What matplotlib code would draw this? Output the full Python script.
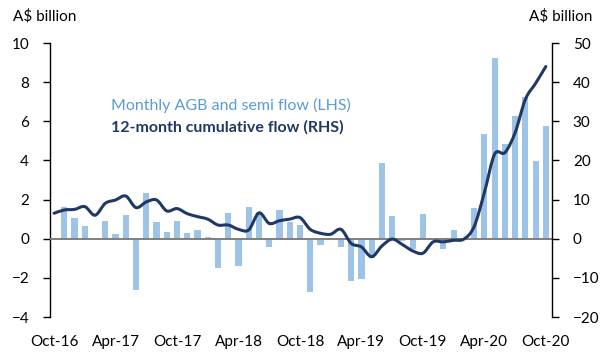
import numpy as np
import matplotlib
matplotlib.use('Agg')
import matplotlib.pyplot as plt
from matplotlib.path import Path
from matplotlib.patches import PathPatch

plt.rcParams['font.family'] = ['Lato', 'DejaVu Sans']

# Monthly flows, Oct-16 .. Oct-20 (A$ billion, LHS)
monthly_flow = [0.06, 1.64, 1.08, 0.64, 0.06, 0.89, 0.24, 1.20, -2.63, 2.34,
                0.84, 0.35, 0.89, 0.27, 0.45, 0.11, -1.49, 1.32, -1.39, 1.61,
                1.37, -0.40, 1.45, 0.86, 0.69, -2.73, -0.30, 0.03, -0.40, -2.18,
                -2.08, -1.01, 3.85, 1.16, -0.13, -0.54, 1.25, 0.06, -0.54, 0.45,
                0.02, 1.56, 5.33, 9.24, 4.86, 6.25, 7.23, 3.99, 5.74]

# 12-month cumulative flow (A$ billion, RHS)
cumulative_flow = [6.5, 7.35, 7.5, 8.2, 6.0, 9.05, 9.9, 10.9, 7.95, 9.4,
                   9.9, 7.1, 7.7, 6.4, 5.65, 5.0, 3.5, 3.5, 2.4, 2.25,
                   6.6, 3.9, 4.6, 5.0, 5.4, 2.4, 1.4, 1.15, 2.4, -1.2,
                   -2.1, -4.6, -1.85, -0.1, -1.5, -3.1, -3.7, -0.8, -0.8, -0.4,
                   -0.1, 3.1, 11.8, 21.6, 22.0, 27.1, 35.6, 39.7, 44.0]

tick_labels = ['Oct-16', 'Apr-17', 'Oct-17', 'Apr-18', 'Oct-18',
               'Apr-19', 'Oct-19', 'Apr-20', 'Oct-20']

bar_color = '#9dc3e6'
line_color = '#1f3864'
text_blue = '#5b9bd5'

fig = plt.figure(figsize=(6, 3.54), dpi=100)
ax = fig.add_axes([0.0833, 0.1045, 0.8367, 0.774])
ax2 = ax.twinx()

x = np.arange(len(monthly_flow))
ax.bar(x, monthly_flow, width=0.6, color=bar_color, zorder=2)
ax.axhline(0, color='#7f7f7f', linewidth=1.4, zorder=3)

# smoothed line (Catmull-Rom style curve through each monthly point)
pts = np.column_stack([x, cumulative_flow]).astype(float)
verts = [pts[0]]
codes = [Path.MOVETO]
for i in range(len(pts) - 1):
    p0 = pts[max(i - 1, 0)]
    p1 = pts[i]
    p2 = pts[i + 1]
    p3 = pts[min(i + 2, len(pts) - 1)]
    verts += [p1 + (p2 - p0) / 6, p2 - (p3 - p1) / 6, p2]
    codes += [Path.CURVE4] * 3
ax2.add_patch(PathPatch(Path(verts, codes), fill=False, edgecolor=line_color,
                        linewidth=2.2, capstyle='round', joinstyle='round', zorder=4))

ax.set_xlim(-0.4, len(monthly_flow) - 0.4)
ax.set_ylim(-4, 10)
ax2.set_ylim(-20, 50)
ax.set_yticks(range(-4, 11, 2))
ax2.set_yticks(range(-20, 51, 10))
ax.set_xticks(range(0, len(monthly_flow), 6))
ax.set_xticklabels(tick_labels)

for a in (ax, ax2):
    a.spines['top'].set_visible(False)
    a.spines['bottom'].set_visible(False)
    a.spines['left'].set_linewidth(1.0)
    a.spines['right'].set_linewidth(1.0)
ax.spines['right'].set_visible(False)
ax2.spines['left'].set_visible(False)

ax.tick_params(axis='x', length=0, pad=13, labelsize=11)
ax.tick_params(axis='y', length=5, width=1, pad=10, labelsize=11)
ax2.tick_params(axis='y', length=5, width=1, pad=10, labelsize=11)

fig.text(0.021, 0.955, 'A$ billion', fontsize=11, va='center', ha='left')
fig.text(0.988, 0.955, 'A$ billion', fontsize=11, va='center', ha='right')

fig.text(0.1845, 0.703, 'Monthly AGB and semi flow (LHS)', fontsize=11.5,
         color=text_blue, va='center', ha='left')
fig.text(0.1845, 0.641, '12-month cumulative flow (RHS)', fontsize=11.5,
         color=line_color, fontweight='bold', va='center', ha='left')

fig.savefig('out.png', dpi=100)
